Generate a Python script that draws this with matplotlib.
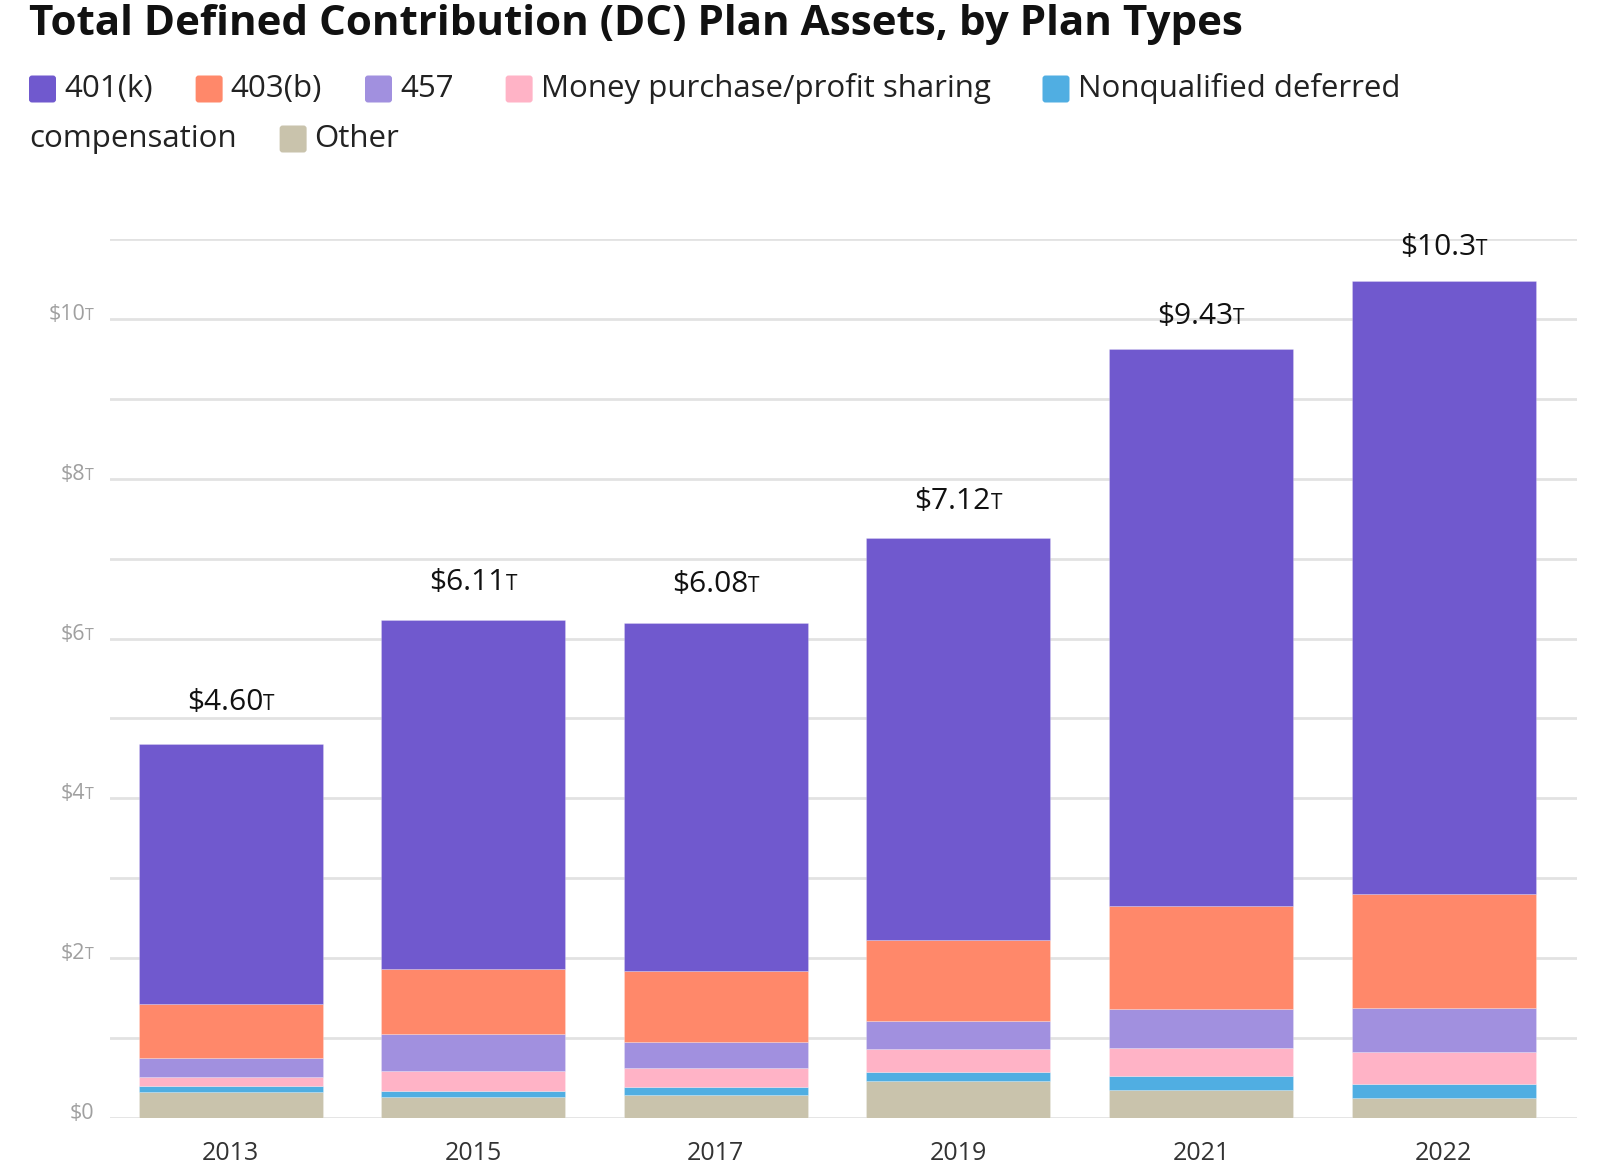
import numpy as np
import matplotlib
matplotlib.use("Agg")
import matplotlib.pyplot as plt
from matplotlib.patches import FancyBboxPatch
from matplotlib.transforms import IdentityTransform, offset_copy

# data (trillions USD)
years = ["2013", "2015", "2017", "2019", "2021", "2022"]
k401 = [3.25, 4.37, 4.35, 5.03, 6.97, 7.67]
b403 = [0.68, 0.81, 0.89, 1.01, 1.28, 1.42]
p457 = [0.23, 0.46, 0.32, 0.36, 0.50, 0.56]
money = [0.11, 0.25, 0.24, 0.28, 0.35, 0.40]
nonqual = [0.075, 0.08, 0.10, 0.12, 0.17, 0.17]
other = [0.33, 0.26, 0.29, 0.46, 0.35, 0.25]
totals = [4.60, 6.11, 6.08, 7.12, 9.43, 10.3]  # printed totals
y_ticks = [0, 2, 4, 6, 8, 10]

names = ["401(k)", "403(b)", "457", "Money purchase/profit sharing",
         "Nonqualified deferred compensation", "Other"]
colors = ["#7059CE", "#FF886A", "#A190DF", "#FFB3C6", "#50AEE2", "#C9C3AC"]

W, H = 1600, 1175
FONT = "Open Sans"
plt.rcParams["font.family"] = [FONT, "DejaVu Sans"]

fig = plt.figure(figsize=(W / 100, H / 100), dpi=100)
ax = fig.add_axes([110 / W, 1 - 1118 / H, 1467 / W, (1118 - 239) / H])

x = np.arange(len(years))
stack = [other, nonqual, money, p457, b403, k401]
stack_colors = [colors[5], colors[4], colors[3], colors[2], colors[1], colors[0]]
bottom = np.zeros(len(years))
for vals, c in zip(stack, stack_colors):
    ax.bar(x, vals, bottom=bottom, width=0.758, color=c, zorder=3,
           edgecolor=(1, 1, 1, 0.25), linewidth=0.6)
    bottom += np.array(vals)

ax.set_xlim(-0.497, 5.55)
ax.set_ylim(0, 11)
ax.set_yticks(np.arange(0, 12))
ax.yaxis.grid(True, color="#E2E2E2", linewidth=2)
ax.set_axisbelow(True)
ax.tick_params(axis="y", length=0, labelleft=False)
ax.tick_params(axis="x", length=0, labelsize=18, labelcolor="#333333", pad=16.5)
ax.set_xticks(x)
ax.set_xticklabels(years)
for s in ax.spines.values():
    s.set_visible(False)

fig.canvas.draw()
renderer = fig.canvas.get_renderer()

# y tick labels with small-cap "T"
for v in y_ticks:
    tr = offset_copy(ax.get_yaxis_transform(), fig=fig, x=-16, y=-1, units="dots")
    if v == 0:
        ax.text(0, v, "$0", transform=tr, ha="right", va="baseline",
                fontsize=15.5, color="#A0A0A0")
        continue
    t = ax.text(0, v, "T", transform=tr, ha="right", va="baseline",
                fontsize=11.5, color="#A0A0A0")
    tw = t.get_window_extent(renderer).width
    tr2 = offset_copy(ax.get_yaxis_transform(), fig=fig, x=-16 - tw, y=-1, units="dots")
    ax.text(0, v, f"${v}", transform=tr2, ha="right", va="baseline",
            fontsize=15.5, color="#A0A0A0")

# totals above bars
off = 40
for xi, v in zip(x, totals):
    lab = f"${v:#.3g}"
    tr = offset_copy(ax.transData, fig=fig, x=0, y=off, units="dots")
    a = ax.text(xi, v, lab, transform=tr, ha="center", va="baseline",
                fontsize=21.5, color="#111111", clip_on=False)
    b = ax.text(xi, v, "T", transform=tr, ha="left", va="baseline",
                fontsize=15, color="#111111", clip_on=False)
    wa = a.get_window_extent(renderer).width
    wb = b.get_window_extent(renderer).width
    a.set_transform(offset_copy(ax.transData, fig=fig, x=-wb / 2, y=off, units="dots"))
    b.set_transform(offset_copy(ax.transData, fig=fig, x=wa / 2 - wb / 2, y=off, units="dots"))

# title
fig.text(29 / W, 1 - 35 / H, "Total Defined Contribution (DC) Plan Assets, by Plan Types",
         fontsize=30.3, fontweight="bold", color="#111111", va="baseline", ha="left")

# legend, laid out like a wrapping html legend
def fig_text(px, py, s):
    return fig.text(px / W, 1 - py / H, s, fontsize=22.5, color="#222222",
                    ha="left", va="center")

def square(px, py, c):
    p = FancyBboxPatch((px, H - py - 13.5), 27, 27,
                       boxstyle="round,pad=0,rounding_size=3",
                       transform=IdentityTransform(), facecolor=c, edgecolor="none")
    fig.patches.append(p)

row1, row2 = 89, 139
gaps = [43, 43, 52, 52]
cx = 29
for name, c, g in zip(names[:4], colors[:4], gaps):
    square(cx, row1, c)
    t = fig_text(cx + 35, row1, name)
    cx += 35 + t.get_window_extent(renderer).width + g
square(cx, row1, colors[4])
fig_text(cx + 35, row1, "Nonqualified deferred")
t = fig_text(29, row2, "compensation")
cx = 29 + t.get_window_extent(renderer).width + 43
square(cx, row2, colors[5])
fig_text(cx + 35, row2, "Other")

fig.savefig("out.png", dpi=100)
